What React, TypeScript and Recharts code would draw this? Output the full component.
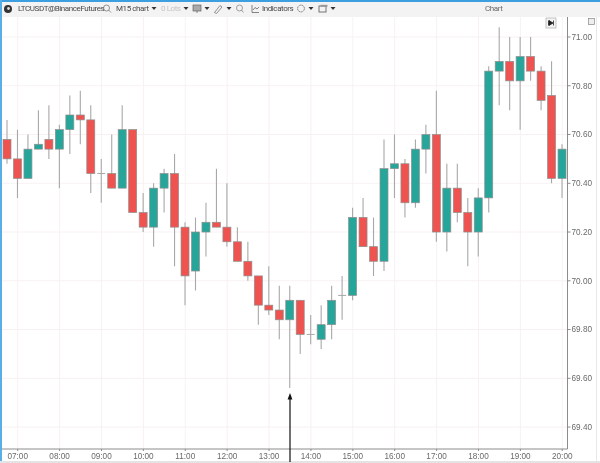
import React from "react";
import { ComposedChart, Bar, XAxis, YAxis, CartesianGrid } from "recharts";

const times = [
  "06:45","07:00","07:15","07:30","07:45","08:00","08:15","08:30","08:45",
  "09:00","09:15","09:30","09:45","10:00","10:15","10:30","10:45",
  "11:00","11:15","11:30","11:45","12:00","12:15","12:30","12:45",
  "13:00","13:15","13:30","13:45","14:00","14:15","14:30","14:45",
  "15:00","15:15","15:30","15:45","16:00","16:15","16:30","16:45",
  "17:00","17:15","17:30","17:45","18:00","18:15","18:30","18:45",
  "19:00","19:15","19:30","19:45","20:00",
];
const opens = [
  70.58,70.50,70.42,70.54,70.58,70.54,70.62,70.68,70.66,70.44,70.44,70.38,70.62,70.28,70.22,70.38,70.44,70.22,
  70.04,70.20,70.24,70.22,70.16,70.08,70.02,69.90,69.88,69.84,69.92,69.78,69.76,69.82,69.94,69.94,70.26,70.14,
  70.08,70.46,70.48,70.32,70.54,70.60,70.20,70.38,70.28,70.20,70.34,70.86,70.90,70.82,70.92,70.86,70.76,70.42,
];
const closes = [
  70.50,70.42,70.54,70.56,70.54,70.62,70.68,70.66,70.44,70.44,70.38,70.62,70.28,70.22,70.38,70.44,70.22,70.02,
  70.20,70.24,70.22,70.16,70.08,70.02,69.90,69.88,69.84,69.92,69.78,69.78,69.82,69.92,69.94,70.26,70.14,70.08,
  70.46,70.48,70.32,70.54,70.60,70.20,70.38,70.28,70.20,70.34,70.86,70.90,70.82,70.92,70.86,70.74,70.42,70.54,
];
const highs = [
  70.66,70.62,70.60,70.70,70.72,70.64,70.76,70.78,70.72,70.50,70.60,70.72,70.62,70.36,70.40,70.46,70.52,70.24,
  70.26,70.32,70.46,70.40,70.22,70.16,70.02,70.06,69.98,69.98,69.92,69.86,69.90,69.98,70.02,70.30,70.34,70.26,
  70.58,70.60,70.50,70.58,70.64,70.78,70.48,70.48,70.34,70.38,70.88,71.04,71.00,71.00,71.00,70.88,70.90,70.56,
];
const lows = [
  70.48,70.34,70.42,70.54,70.50,70.38,70.52,70.56,70.36,70.32,70.38,70.38,70.28,70.20,70.14,70.28,70.06,69.90,
  69.96,70.10,70.22,70.14,70.08,70.00,69.82,69.86,69.76,69.56,69.70,69.74,69.72,69.76,69.84,69.92,70.14,70.02,
  70.04,70.34,70.26,70.30,70.44,70.16,70.12,70.24,70.06,70.10,70.28,70.72,70.70,70.62,70.82,70.70,70.40,70.34,
];
const hourTicks = ["07:00","08:00","09:00","10:00","11:00","12:00","13:00","14:00","15:00","16:00","17:00","18:00","19:00","20:00"];
const priceTicks = [69.4,69.6,69.8,70.0,70.2,70.4,70.6,70.8,71.0];

const rows = times.map((time, i) => ({
  time,
  open: opens[i],
  close: closes[i],
  high: highs[i],
  low: lows[i],
}));

const UP = "#26a69a";
const DOWN = "#ef5350";
const EDGE = "#8f8f8f";
const WICK = "#a8a8a8";
const GRID = "#f8f1f2";
const AXIS = "#8c8c8c";
const TEXT = "#6a6a6a";
const FONT = "Roboto, sans-serif";

function Candle(props: any) {
  const { x, y, width, height, payload } = props;
  const { open, close, high, low } = payload;
  const h = Math.abs(height);
  const perUnit = h / (high - low);
  const cx = x + width / 2;
  const bodyTop = y + (high - Math.max(open, close)) * perUnit;
  const bodyBottom = y + (high - Math.min(open, close)) * perUnit;
  const fill = close > open ? UP : DOWN;
  return (
    <g>
      <line x1={cx} x2={cx} y1={y} y2={y + h} stroke={WICK} strokeWidth={1.1} />
      {open === close ? (
        <line x1={x} x2={x + width} y1={bodyTop} y2={bodyTop} stroke={WICK} strokeWidth={1} />
      ) : (
        <rect x={x} y={bodyTop} width={width} height={bodyBottom - bodyTop} fill={fill} stroke={EDGE} strokeWidth={0.7} />
      )}
    </g>
  );
}

const Tri = ({ x }: { x: number }) => (
  <path d={`M${x - 2.5} 7 L${x + 2.5} 7 L${x} 10 Z`} fill="#333" />
);

function Toolbar() {
  const label = (text: string, left: number, color = "#4a4a4a") => (
    <span style={{ position: "absolute", left, top: 2, fontSize: 8, letterSpacing: "-0.42px", lineHeight: "13px", color, fontFamily: FONT, whiteSpace: "nowrap" }}>{text}</span>
  );
  return (
    <div style={{ position: "absolute", left: 0, top: 0, width: 600, height: 17, background: "#f3f3f4" }}>
      <div style={{ position: "absolute", left: 0, top: 0, width: 600, height: 1.5, background: "#3e9fe0" }} />
      {label("LTCUSDT@BinanceFutures", 18)}
      {label("M15 chart", 116)}
      {label("0 Lots", 161, "#c4c4c4")}
      {label("Indicators", 262)}
      {label("Chart", 485, "#6a6a6a")}
      <svg width={600} height={17} style={{ position: "absolute", left: 0, top: 0 }}>
        <circle cx={8} cy={9} r={4} fill="#333" />
        <circle cx={8.5} cy={8.5} r={1.4} fill="#ddd" />
        <circle cx={106.5} cy={8} r={3} fill="none" stroke="#777" strokeWidth={0.8} />
        <line x1={108.5} y1={10} x2={111} y2={12.5} stroke="#777" strokeWidth={0.8} />
        <Tri x={154} />
        <Tri x={186} />
        <rect x={193} y={5} width={8} height={6} fill="#aaa" stroke="#666" strokeWidth={0.7} />
        <line x1={197} y1={11} x2={197} y2={13} stroke="#666" strokeWidth={0.8} />
        <Tri x={207} />
        <path d="M214.5 12.5 L220 5.5 L222 7 L216.5 13.5 Z" fill="none" stroke="#777" strokeWidth={0.8} />
        <Tri x={229} />
        <circle cx={239.5} cy={8} r={3} fill="none" stroke="#888" strokeWidth={0.8} />
        <line x1={241.5} y1={10} x2={243.5} y2={12.5} stroke="#888" strokeWidth={0.8} />
        <path d="M252 5 L252 12.5 L259 12.5 M253 10 L255 7.5 L257 9 L259 7" fill="none" stroke="#666" strokeWidth={0.8} />
        <circle cx={301} cy={8.5} r={3.4} fill="none" stroke="#777" strokeWidth={1} strokeDasharray="1.5 0.6" />
        <Tri x={311} />
        <rect x={319} y={6} width={7} height={6} fill="none" stroke="#666" strokeWidth={0.9} />
        <rect x={320.5} y={4.8} width={7} height={2} fill="#999" />
        <Tri x={333} />
      </svg>
    </div>
  );
}

export default function App() {
  return (
    <div style={{ position: "absolute", left: 0, top: 0, width: 600, height: 463, background: "#ffffff", overflow: "hidden", filter: "blur(0.3px)" }}>
      <ComposedChart
        width={600}
        height={463}
        data={rows}
        margin={{ top: 17, right: 0, bottom: 0, left: 2 }}
        barSize={8}
      >
        <CartesianGrid stroke={GRID} strokeWidth={1} syncWithTicks />
        <XAxis
          dataKey="time"
          ticks={hourTicks}
          interval={0}
          height={14}
          axisLine={{ stroke: AXIS }}
          tickLine={{ stroke: AXIS }}
          tickSize={2}
          tickMargin={2}
          tick={{ fontSize: 8.2, fill: TEXT, fontFamily: "'Liberation Sans', sans-serif" }}
        />
        <YAxis
          orientation="right"
          width={32.5}
          domain={[69.31, 71.082]}
          ticks={priceTicks}
          tickFormatter={(v: number) => v.toFixed(2)}
          axisLine={{ stroke: AXIS }}
          tickLine={{ stroke: AXIS }}
          tickSize={3}
          tickMargin={1}
          allowDataOverflow
          tick={{ fontSize: 8.2, fill: TEXT, fontFamily: "'Liberation Sans', sans-serif" }}
        />
        <Bar dataKey={(d: any) => [d.low, d.high]} shape={Candle} isAnimationActive={false} />
      </ComposedChart>
      <Toolbar />
      <div style={{ position: "absolute", left: 0, top: 0, width: 1.5, height: 463, background: "#5aaee6" }} />
      <div style={{ position: "absolute", left: 0, top: 461, width: 600, height: 2, background: "#e4e4e4" }} />
      <div style={{ position: "absolute", left: 596, top: 17, width: 1, height: 444, background: "#e8e8e8" }} />
      <svg width={600} height={463} style={{ position: "absolute", left: 0, top: 0, pointerEvents: "none" }}>
        <line x1={290} y1={397} x2={290} y2={462} stroke="#111" strokeWidth={1.2} />
        <path d="M290 393 L292.4 399.5 L287.6 399.5 Z" fill="#111" />
        <rect x={546} y={18} width={10} height={10} fill="#f4f4f4" stroke="#aaa" strokeWidth={0.7} />
        <path d="M548.5 20.5 L548.5 25.5 M553.5 20.5 L553.5 25.5 M549 20.5 L553 23 L549 25.5 Z" fill="#222" stroke="#222" strokeWidth={0.8} />
        <rect x={588.5} y={18.5} width={6} height={6} fill="#eee" stroke="#888" strokeWidth={0.7} />
      </svg>
    </div>
  );
}
